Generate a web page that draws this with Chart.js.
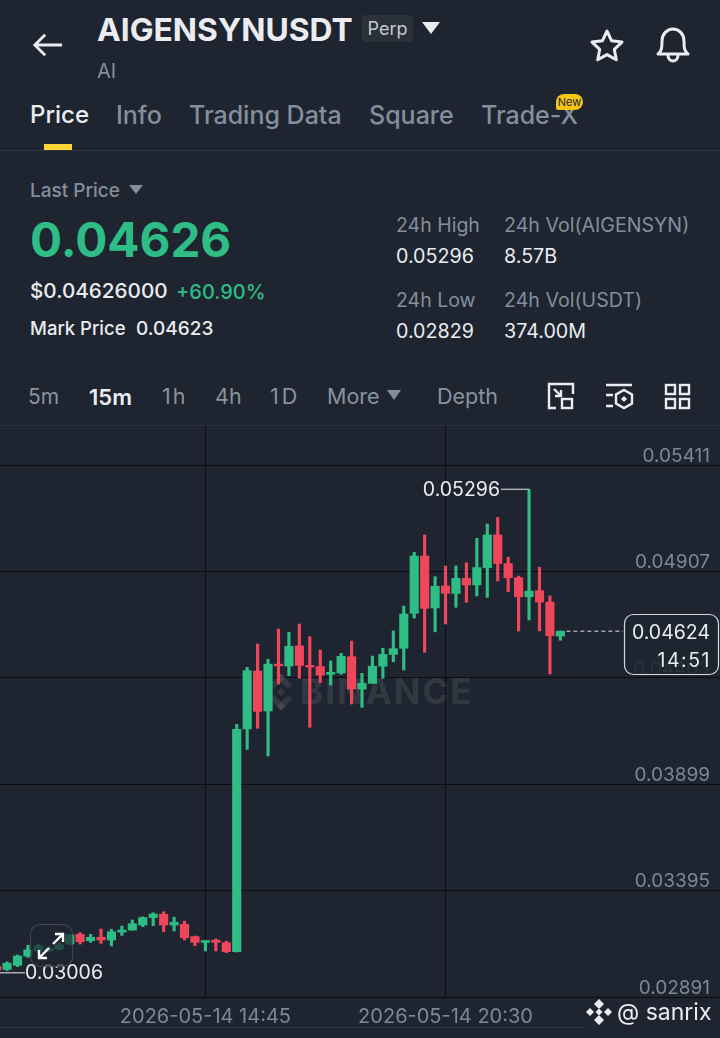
<!DOCTYPE html>
<html>
<head>
<meta charset="utf-8">
<script src="https://cdn.jsdelivr.net/npm/chart.js@4"></script>
<style>
html, body { margin: 0; padding: 0; background: #1e2530; }
#page { position: relative; width: 720px; height: 1038px; overflow: hidden; background: #1e2530; font-family: Inter, "Noto Sans", sans-serif; color: #eaecef; }
#page div, #page svg { position: absolute; }
.t { white-space: nowrap; line-height: 1; }
.gray { color: #848e9c; }
.dim { color: #8a929e; }
#chartBox { left: 0; top: 426px; width: 720px; height: 612px; }
canvas { display: block; }
</style>
</head>
<body>
<div id="page">
  <svg style="left:32px;top:30px" width="32" height="30" viewBox="0 0 34 30" fill="none" stroke="#eaecef" stroke-width="3"><path d="M32 15H4M14 4 3 15l11 11"/></svg>
  <div class="t" style="left:97px;top:14px;font-size:31.800px;font-weight:700">AIGENSYNUSDT</div>
  <div class="t" style="left:362px;top:15px;width:51px;height:27px;background:#2b3139;border-radius:3px;font-size:18px;line-height:27px;text-align:center;color:#c4c9d1">Perp</div>
  <svg style="left:422px;top:22px" width="18" height="12"><path d="M0 0H18L9 12Z" fill="#eaecef"/></svg>
  <div class="t gray" style="left:97px;top:61px;font-size:20px">AI</div>
  <svg style="left:589px;top:28px" width="36" height="34" viewBox="0 0 36 34" fill="none" stroke="#eaecef" stroke-width="3" stroke-linejoin="round"><path d="M18 3l4.600 9.800 10.400 1.300-7.700 7.200 2 10.500L18 26.600 8.700 31.800l2-10.500L3 14.100l10.400-1.300Z"/></svg>
  <svg style="left:655px;top:26px" width="36" height="38" viewBox="0 0 36 38" fill="none" stroke="#eaecef" stroke-width="3" stroke-linejoin="round"><path d="M3 28c4-3 4-7 4-13 0-7 5-12 11-12s11 5 11 12c0 6 0 10 4 13Z"/><path d="M13 29c0 8 10 8 10 0"/></svg>

  <div class="t" style="left:30px;top:103px;font-size:24px;font-weight:500">Price</div>
  <div class="t gray" style="left:116px;top:103px;font-size:25px;font-weight:500">Info</div>
  <div class="t gray" style="left:189px;top:103px;font-size:25px;font-weight:500">Trading Data</div>
  <div class="t gray" style="left:369px;top:103px;font-size:25px;font-weight:500">Square</div>
  <div class="t gray" style="left:481px;top:103px;font-size:25px;font-weight:500">Trade-X</div>
  <div class="t" style="left:556px;top:94px;width:27px;height:16px;background:#f5c518;border-radius:8px 8px 8px 2px;font-size:11px;line-height:16px;text-align:center;color:#1e2530">New</div>
  <div style="left:44px;top:144px;width:28px;height:6px;background:#fcd535"></div>
  <div style="left:0;top:150px;width:720px;height:1px;background:#2f3641"></div>

  <div class="t gray" style="left:30px;top:181px;font-size:19px;font-weight:500">Last Price</div>
  <svg style="left:129px;top:185px" width="14" height="9"><path d="M0 0H14L7 9Z" fill="#848e9c"/></svg>
  <div class="t" style="left:30px;top:216px;font-size:47.600px;font-weight:700;color:#2ebd85">0.04626</div>
  <div class="t" style="left:30px;top:281px;font-size:20.700px;font-weight:500">$0.04626000</div>
  <div class="t" style="left:176px;top:282px;font-size:20px;font-weight:500;color:#2ebd85">+60.90%</div>
  <div class="t" style="left:30px;top:319px;font-size:18.500px;font-weight:500">Mark Price</div>
  <div class="t" style="left:136px;top:319px;font-size:19px;font-weight:500">0.04623</div>

  <div class="t gray" style="left:396px;top:216px;font-size:19.500px">24h High</div>
  <div class="t gray" style="left:504px;top:216px;font-size:19.600px">24h Vol(AIGENSYN)</div>
  <div class="t" style="left:396px;top:247px;font-size:19.700px">0.05296</div>
  <div class="t" style="left:504px;top:247px;font-size:19.700px">8.57B</div>
  <div class="t gray" style="left:396px;top:291px;font-size:19.500px">24h Low</div>
  <div class="t gray" style="left:504px;top:291px;font-size:19.600px">24h Vol(USDT)</div>
  <div class="t" style="left:396px;top:322px;font-size:19.700px">0.02829</div>
  <div class="t" style="left:504px;top:322px;font-size:19.700px">374.00M</div>

  <div class="t dim" style="left:28px;top:386px;font-size:21px">5m</div>
  <div class="t" style="left:89px;top:386px;font-size:22px;font-weight:600">15m</div>
  <div class="t dim" style="left:162px;top:386px;font-size:21.500px;letter-spacing:2px">1h</div>
  <div class="t dim" style="left:215px;top:386px;font-size:21.500px">4h</div>
  <div class="t dim" style="left:270px;top:386px;font-size:21.500px;letter-spacing:3px">1D</div>
  <div class="t dim" style="left:327px;top:386px;font-size:21.500px">More</div>
  <svg style="left:387px;top:390px" width="14" height="10"><path d="M0 0H14L7 10Z" fill="#848e9c"/></svg>
  <div class="t dim" style="left:437px;top:386px;font-size:21.500px">Depth</div>
  <svg style="left:547px;top:382px" width="28" height="28" viewBox="0 0 28 28" fill="none" stroke="#eaecef" stroke-width="2.400"><path d="M9 26H2V2h24v10"/><rect x="15" y="17" width="10" height="9"/><path d="M7 7l7 7M14 8v6H8"/></svg>
  <svg style="left:604px;top:382px" width="30" height="28" viewBox="0 0 30 28" fill="none" stroke="#eaecef" stroke-width="2.400"><path d="M2 3h26M2 13h7M2 24h7"/><path d="M20 8l8 4.500v9L20 26l-8-4.500v-9Z"/><path d="M20 14l3 3-3 3-3-3Z" fill="#eaecef" stroke="none"/></svg>
  <svg style="left:664px;top:383px" width="27" height="27" viewBox="0 0 27 27" fill="none" stroke="#eaecef" stroke-width="2.400"><rect x="2" y="2" width="9" height="9"/><rect x="16" y="2" width="9" height="9"/><rect x="2" y="16" width="9" height="9"/><rect x="16" y="16" width="9" height="9"/></svg>
  <div style="left:0;top:425px;width:720px;height:1px;background:#2a303a"></div>

  <div id="chartBox"><canvas id="kline" width="720" height="612"></canvas></div>

  <div style="left:30px;top:924px;width:41px;height:41px;background:rgba(30,37,48,0.72);border:1.500px solid rgba(255,255,255,0.16);border-radius:10px"></div>
  <svg style="left:36px;top:931px" width="30" height="30" viewBox="0 0 30 30" fill="none" stroke="#fff" stroke-width="2.400"><path d="M17 13L27 3M19 3h8v8M13 17L3 27M11 27H3v-8"/></svg>

  <svg style="left:585px;top:998px" width="28" height="28" viewBox="0 0 28 28" fill="#eaecef"><path d="M14 1l5 5-5 5-5-5ZM5 10l4 4-4 4-4-4ZM23 10l4 4-4 4-4-4ZM14 10.500l3.500 3.500-3.500 3.500-3.500-3.500ZM14 17l5 5-5 5-5-5Z"/></svg>
  <div class="t" style="left:617px;top:1001px;font-size:23px;color:#eaecef">@ sanrix</div>
  <div style="left:0;top:1027px;width:585px;height:1px;background:#2f3641"></div>
</div>

<script>
// 15m candles, oldest first
const opens = [0.03038, 0.03022, 0.03041, 0.03085, 0.03109, 0.03111, 0.03118, 0.03142, 0.03188, 0.03158, 0.03174,
  0.03161, 0.03198, 0.03208, 0.03232, 0.03267, 0.03283, 0.03232, 0.03235, 0.03177, 0.03150, 0.03160, 0.03148,
  0.03106, 0.04161, 0.04435, 0.04246, 0.04468, 0.04459, 0.04554, 0.04462, 0.04456, 0.04420, 0.04426, 0.04503,
  0.04350, 0.04377, 0.04458, 0.04514, 0.04543, 0.04709, 0.04980, 0.04734, 0.04838, 0.04803, 0.04874, 0.04843,
  0.04925, 0.05080, 0.04944, 0.04877, 0.04787, 0.04816, 0.04762, 0.04601];
const closes = [0.03019, 0.03051, 0.03085, 0.03114, 0.03133, 0.03121, 0.03137, 0.03185, 0.03153, 0.03174, 0.03161,
  0.03200, 0.03208, 0.03238, 0.03267, 0.03284, 0.03232, 0.03245, 0.03172, 0.03150, 0.03158, 0.03150, 0.03106,
  0.04159, 0.04437, 0.04244, 0.04468, 0.04460, 0.04552, 0.04462, 0.04454, 0.04416, 0.04429, 0.04505, 0.04350,
  0.04377, 0.04458, 0.04514, 0.04541, 0.04705, 0.04980, 0.04732, 0.04837, 0.04803, 0.04874, 0.04843, 0.04925,
  0.05080, 0.04945, 0.04877, 0.04787, 0.04814, 0.04762, 0.04603, 0.04624];
const highs = [0.03047, 0.03058, 0.03090, 0.03136, 0.03142, 0.03128, 0.03147, 0.03187, 0.03196, 0.03188, 0.03213,
  0.03212, 0.03227, 0.03256, 0.03271, 0.03290, 0.03295, 0.03269, 0.03250, 0.03180, 0.03158, 0.03166, 0.03155,
  0.04183, 0.04453, 0.04563, 0.04491, 0.04634, 0.04619, 0.04658, 0.04598, 0.04535, 0.04483, 0.04519, 0.04577,
  0.04424, 0.04506, 0.04543, 0.04625, 0.04743, 0.04998, 0.05080, 0.04882, 0.04933, 0.04933, 0.04948, 0.05064,
  0.05132, 0.05163, 0.04974, 0.04885, 0.05296, 0.04927, 0.04791, 0.04625];
const lows = [0.03006, 0.03016, 0.03035, 0.03079, 0.03104, 0.03104, 0.03114, 0.03137, 0.03142, 0.03150, 0.03145,
  0.03133, 0.03183, 0.03208, 0.03224, 0.03229, 0.03200, 0.03204, 0.03161, 0.03134, 0.03109, 0.03109, 0.03101,
  0.03104, 0.04064, 0.04164, 0.04033, 0.04374, 0.04413, 0.04401, 0.04169, 0.04380, 0.04369, 0.04420, 0.04279,
  0.04263, 0.04377, 0.04401, 0.04479, 0.04440, 0.04686, 0.04524, 0.04621, 0.04658, 0.04737, 0.04761, 0.04791,
  0.04784, 0.04862, 0.04811, 0.04625, 0.04677, 0.04625, 0.04421, 0.04581];

const priceTicks = [0.02891, 0.03395, 0.03899, 0.04403, 0.04907, 0.05411];
const timeTickIndexes = [20, 43];
const timeTickLabels = ['2026-05-14 14:45', '2026-05-14 20:30'];

const highLabel = 0.05296;
const highIndex = 51;
const lowLabel = 0.03006;
const lowIndex = 0;
const lastPrice = 0.04624;
const countdown = '14:51';

const UP = '#2ebd85';
const DOWN = '#f0465c';
const GRID = '#0a0d11';

const candleColors = opens.map((o, i) => closes[i] >= o ? UP : DOWN);

const chartDecor = {
  id: 'chartDecor',
  beforeDatasetsDraw(chart) {
    // BINANCE watermark sits under the candles
    const c = chart.ctx;
    c.save();
    c.fillStyle = 'rgba(255,255,255,0.09)';
    c.font = '700 35px Inter';
    c.letterSpacing = '2px';
    c.textAlign = 'left';
    c.textBaseline = 'middle';
    c.fillText('BINANCE', 300, 267);
    c.letterSpacing = '0px';
    c.translate(281, 266);
    c.rotate(Math.PI / 4);
    c.fillRect(-3, -3, 6, 6);
    c.fillRect(-13, -13, 6, 16);
    c.fillRect(-13, -13, 16, 6);
    c.fillRect(7, -3, 6, 16);
    c.fillRect(-3, 7, 16, 6);
    c.restore();
  },
  afterDatasetsDraw(chart) {
    const c = chart.ctx;
    const x = chart.scales.x;
    const y = chart.scales.y;
    c.save();
    c.font = '19.5px Inter';
    c.textBaseline = 'middle';

    // highest price marker
    const hy = y.getPixelForValue(highLabel);
    c.strokeStyle = '#a9aeb5';
    c.lineWidth = 1.5;
    c.beginPath();
    c.moveTo(x.getPixelForValue(highIndex), hy);
    c.lineTo(501, hy);
    c.stroke();
    c.fillStyle = '#eaecef';
    c.textAlign = 'right';
    c.fillText(highLabel.toFixed(5), 500, hy + 0.5);

    // lowest price marker
    const ly = y.getPixelForValue(lowLabel);
    c.beginPath();
    c.moveTo(0, ly);
    c.lineTo(25, ly);
    c.stroke();
    c.textAlign = 'left';
    c.fillText(lowLabel.toFixed(5), 25, ly + 0.5);

    // last price line and box
    const py = y.getPixelForValue(lastPrice);
    c.strokeStyle = '#dfe2e6';
    c.lineWidth = 1;
    c.setLineDash([4, 3]);
    c.beginPath();
    c.moveTo(x.getPixelForValue(opens.length - 1) + 6, py);
    c.lineTo(623, py);
    c.stroke();
    c.setLineDash([]);
    c.fillStyle = 'rgba(30,37,48,0.88)';
    c.strokeStyle = '#d5d8dc';
    c.lineWidth = 1.2;
    c.beginPath();
    c.roundRect(624.5, 188.5, 94, 60, 9);
    c.fill();
    c.stroke();
    c.fillStyle = '#eaecef';
    c.textAlign = 'right';
    c.fillText(lastPrice.toFixed(5), 710, py + 1.5);
    c.letterSpacing = '1.5px';
    c.fillText(countdown, 711, py + 29.5);
    c.restore();
  }
};

const ctx = document.getElementById('kline').getContext('2d');

const chart = new Chart(ctx, {
  type: 'bar',
  data: {
    datasets: [{
      label: 'wick',
      data: opens.map((o, i) => ({ x: i, y: [lows[i], highs[i]] })),
      backgroundColor: candleColors,
      barThickness: 2.5,
      order: 2
    }, {
      label: 'body',
      data: opens.map((o, i) => ({ x: i, y: [o, closes[i]] })),
      backgroundColor: candleColors,
      barThickness: 8.5,
      order: 1
    }]
  },
  options: {
    responsive: false,
    animation: false,
    layout: { padding: 0 },
    plugins: { legend: { display: false }, tooltip: { enabled: false } },
    datasets: { bar: { grouped: false } },
    scales: {
      x: {
        type: 'linear',
        offset: false,
        min: 0.326,
        max: 69.29,
        grid: { color: GRID, lineWidth: 1, drawTicks: false, offset: false },
        border: { display: false },
        afterBuildTicks(scale) {
          scale.ticks = timeTickIndexes.map(v => ({ value: v }));
        },
        afterFit(scale) {
          scale.height = 41;
          scale.paddingLeft = 0;
          scale.paddingRight = 0;
        },
        ticks: {
          autoSkip: false,
          maxRotation: 0,
          padding: 8,
          color: '#7f8791',
          font: { family: 'Inter', size: 20 },
          callback(value) { return timeTickLabels[timeTickIndexes.indexOf(value)]; }
        }
      },
      y: {
        position: 'right',
        min: 0.02891,
        max: 0.05596,
        grid: { color: GRID, lineWidth: 1, drawTicks: false },
        border: { display: false },
        afterBuildTicks(scale) {
          scale.ticks = priceTicks.map(v => ({ value: v }));
        },
        afterFit(scale) {
          scale.width = 0;
          scale.paddingTop = 0;
          scale.paddingBottom = 0;
        },
        ticks: {
          mirror: true,
          padding: -10,
          labelOffset: -9,
          color: '#7f8791',
          font: { family: 'Inter', size: 19 },
          callback(value) { return value.toFixed(5); }
        }
      }
    }
  },
  plugins: [chartDecor]
});
</script>
</body>
</html>
